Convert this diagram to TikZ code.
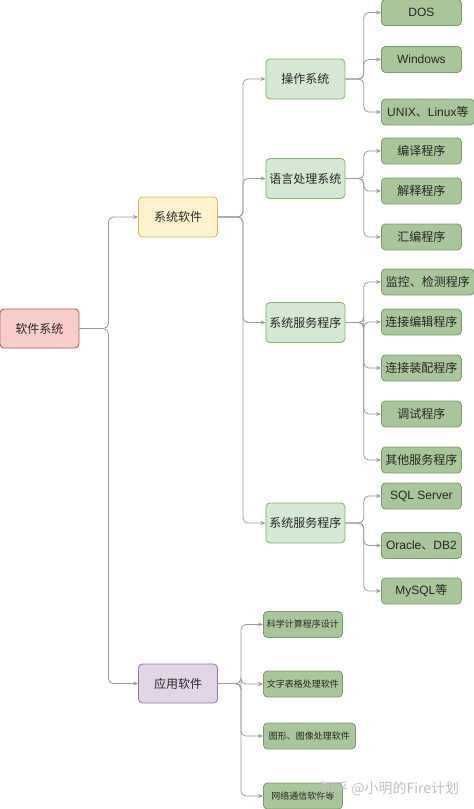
\documentclass[tikz,border=0pt]{standalone}
\usepackage{fontspec}
\setmainfont{Liberation Sans}
\newfontfamily\cjk{Noto Sans CJK SC}
\usetikzlibrary{arrows.meta}
\definecolor{rootfill}{HTML}{F8CECC}\definecolor{rootline}{HTML}{B85450}
\definecolor{sysfill}{HTML}{FFF2CC}\definecolor{sysline}{HTML}{D6B656}
\definecolor{appfill}{HTML}{E1D5E7}\definecolor{appline}{HTML}{9673A6}
\definecolor{midfill}{HTML}{D5E8D4}\definecolor{midline}{HTML}{82B366}
\definecolor{leaffill}{HTML}{A9C59A}\definecolor{leafline}{HTML}{7D9A6F}
\definecolor{connline}{HTML}{9A9A9A}
\tikzset{
  box/.style={draw, rounded corners=4pt, line width=0.8pt, inner sep=0pt, align=center, text=black!85},
  rootbox/.style={box, fill=rootfill, draw=rootline, minimum width=79pt, minimum height=39pt, font=\cjk\fontsize{12}{14}\selectfont},
  sysbox/.style={box, fill=sysfill, draw=sysline, minimum width=79pt, minimum height=40pt, font=\cjk\fontsize{12}{14}\selectfont},
  appbox/.style={box, fill=appfill, draw=appline, minimum width=79pt, minimum height=39pt, font=\cjk\fontsize{12}{14}\selectfont},
  midbox/.style={box, fill=midfill, draw=midline, minimum width=79pt, minimum height=40pt, anchor=west, font=\cjk\fontsize{12}{14}\selectfont},
  leafbox/.style={box, fill=leaffill, draw=leafline, minimum width=80pt, minimum height=26pt, anchor=west, font=\fontsize{12}{14}\selectfont},
  smallleaf/.style={box, fill=leaffill, draw=leafline, minimum width=79pt, minimum height=26pt, anchor=west, font=\cjk\fontsize{9}{11}\selectfont},
  conn/.style={draw=connline, line width=0.8pt, rounded corners=5pt, -{Stealth[length=5pt,width=4pt]}}
}
\begin{document}
\begin{tikzpicture}[x=1pt,y=-1pt]
\useasboundingbox (0,0) rectangle (474,809);
% level 1
\node[rootbox] (root) at (39.5,328.5) {软件系统};
\node[sysbox] (sys) at (178,217) {系统软件};
\node[appbox] (app) at (178,683.5) {应用软件};
% level 2
\node[midbox] (os) at (265.5,79) {操作系统};
\node[midbox] (lang) at (265.5,178.5) {语言处理系统};
\node[midbox] (svc) at (265.5,322.5) {系统服务程序};
\node[midbox] (db) at (265.5,523) {系统服务程序};
% leaves of os
\node[leafbox] (dos) at (381,12.5) {DOS};
\node[leafbox] (win) at (381,59.5) {Windows};
\node[leafbox, minimum width=93pt] (unix) at (381,112) {UNIX{\cjk 、}Linux{\cjk 等}};
% leaves of lang
\node[leafbox, font=\cjk\fontsize{12}{14}\selectfont] (comp) at (381,151) {编译程序};
\node[leafbox, font=\cjk\fontsize{12}{14}\selectfont] (interp) at (381,191) {解释程序};
\node[leafbox, font=\cjk\fontsize{12}{14}\selectfont] (asm) at (381,237) {汇编程序};
% leaves of svc
\node[leafbox, minimum width=93pt, font=\cjk\fontsize{12}{14}\selectfont] (mon) at (381,282) {监控、检测程序};
\node[leafbox, font=\cjk\fontsize{12}{14}\selectfont] (linked) at (381,322) {连接编辑程序};
\node[leafbox, font=\cjk\fontsize{12}{14}\selectfont] (linka) at (381,368) {连接装配程序};
\node[leafbox, font=\cjk\fontsize{12}{14}\selectfont] (dbg) at (381,414) {调试程序};
\node[leafbox, font=\cjk\fontsize{12}{14}\selectfont] (other) at (381,460) {其他服务程序};
% leaves of db
\node[leafbox] (sql) at (381,496) {SQL Server};
\node[leafbox] (ora) at (381,545.5) {Oracle{\cjk 、}DB2};
\node[leafbox] (my) at (381,591) {MySQL{\cjk 等}};
% application leaves
\node[smallleaf] (sci) at (263,624.5) {科学计算程序设计};
\node[smallleaf] (txt) at (263,684) {文字表格处理软件};
\node[smallleaf, minimum width=92pt] (img) at (263,736) {图形、图像处理软件};
\node[smallleaf] (net) at (263,796) {网络通信软件等};
% connectors
\draw[conn] (root.east) -- ++(29,0) |- (sys.west);
\draw[conn] (root.east) -- ++(29,0) |- (app.west);
\foreach \c in {os,lang,svc,db}
  \draw[conn] (sys.east) -- ++(25,0) |- (\c.west);
\foreach \c in {dos,win,unix}
  \draw[conn] (os.east) -- ++(18.5,0) |- (\c.west);
\foreach \c in {comp,interp,asm}
  \draw[conn] (lang.east) -- ++(18.5,0) |- (\c.west);
\foreach \c in {mon,linked,linka,dbg,other}
  \draw[conn] (svc.east) -- ++(18.5,0) |- (\c.west);
\foreach \c in {sql,ora,my}
  \draw[conn] (db.east) -- ++(18.5,0) |- (\c.west);
\foreach \c in {sci,txt,img,net}
  \draw[conn] (app.east) -- ++(23,0) |- (\c.west);
% watermark
\node[anchor=west, text=black!25, font=\cjk\fontsize{14}{16}\selectfont, inner sep=0pt] (wm) at (320,789) {知乎 @小明的Fire计划};
\end{tikzpicture}
\end{document}
